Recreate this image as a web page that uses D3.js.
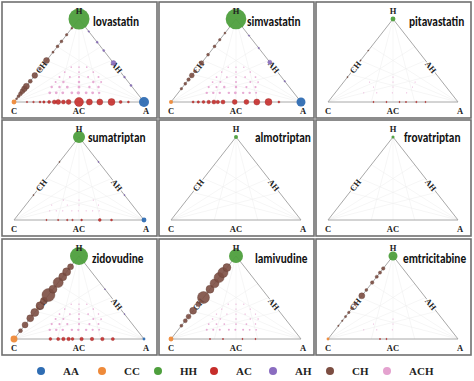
<!DOCTYPE html>
<html><head><meta charset="utf-8">
<script src="https://cdn.jsdelivr.net/npm/d3@7"></script>
<style>body{margin:0;background:#fff}</style>
</head><body><svg id="c" width="474" height="381"></svg>
<script>
// ---------------- DATA ----------------
const drugs = ["lovastatin","simvastatin","pitavastatin","sumatriptan","almotriptan","frovatriptan","zidovudine","lamivudine","emtricitabine"];
const categories = ["AA","CC","HH","AC","AH","CH","ACH"];
// vertex counts per drug
const vertexHH = [110, 106, 6, 36, 4, 2.5, 81, 49, 20];
const vertexAA = [25, 20, 0, 6, 0, 0, 2, 0, 0];
const vertexCC = [6, 4, 0, 0, 0, 0, 12, 6, 2];
// edge points: [position along edge, count]
// AC: from C (0) to A (1)
const edgeAC = [
  [[.1,.6],[.15,.7],[.2,1],[.23,1.4],[.27,2.2],[.31,4],[.34,6],[.38,4],[.42,6],[.5,20],[.58,9],[.66,9],[.75,12],[.82,2.2],[.88,1]],
  [[.17,1.2],[.21,1.5],[.25,2],[.29,3],[.33,4],[.36,3],[.4,4],[.49,6],[.58,6],[.66,9],[.75,12],[.83,1]],
  [[.35,.4],[.45,.4],[.55,.4],[.6,.4],[.68,.5],[.75,.4]],
  [[.25,.4],[.34,.5],[.41,.6],[.45,.6],[.52,.8],[.66,2],[.75,1]],
  [],
  [],
  [[.28,2],[.34,2.5],[.38,3],[.42,3],[.45,2],[.52,3],[.6,3],[.68,3],[.76,2.5]],
  [[.3,.4],[.4,.4],[.55,.4],[.65,.4]],
  [[.4,.4],[.45,.4]]
];
// CH: from C (0) to H (1)
const edgeCH = [
  [[.04,1],[.07,2.2],[.1,4],[.13,6],[.16,8],[.19,9],[.25,4],[.32,8],[.4,2],[.5,9],[.6,1.2],[.67,2],[.73,2],[.81,1.5],[.89,1]],
  [[.16,1.5],[.22,2],[.27,3],[.32,6],[.37,2],[.47,5],[.57,2],[.67,2],[.75,1.5],[.83,1]],
  [[.3,.4],[.5,.4],[.62,.3]],
  [[.3,.4],[.7,.4]],
  [],
  [],
  [[.1,4],[.17,9],[.25,12],[.32,16],[.4,16],[.46,12],[.53,42],[.6,16],[.68,25],[.75,16],[.81,16],[.87,9]],
  [[.16,2.2],[.22,4],[.27,6],[.34,12],[.42,6],[.5,36],[.6,16],[.67,20],[.74,25],[.8,25],[.86,16]],
  [[.16,.5],[.22,.6],[.27,1.2],[.32,1.5],[.37,2],[.42,2],[.52,9],[.59,2],[.68,3],[.75,2.5],[.8,2.5],[.85,3]]
];
// AH: from A (0) to H (1)
const edgeAH = [
  [[.2,1],[.3,.8],[.47,6],[.62,1],[.72,1],[.85,.6]],
  [[.25,.6],[.48,4],[.65,.6],[.8,.5]],
  [],
  [[.3,.4],[.7,.4]],
  [],
  [],
  [[.3,.3],[.6,.3]],
  [],
  []
];
// interior ACH lattice positions [a, h] (c = 1 - a - h)
const latticeA = [.22,.27,.32,.39,.44,.5,.55,.6, .2,.26,.32,.41,.49,.56, .2,.26,.38,.49,.55, .2,.28,.35,.42,.5, .21,.32,.43, .23,.29,.35];
const latticeH = [.11,.11,.11,.11,.11,.11,.11,.11, .18,.18,.18,.18,.18,.18, .24,.24,.24,.24,.24, .3,.3,.3,.3,.3, .36,.36,.36, .42,.42,.42];
const achCounts = [
  [2,2,2,2,3,2,2,1.5, 1.5,1.5,2,2,1.5,1.5, 1,1.5,1.5,1.5,1, 1,1,1,1,1, .8,.8,.8, .6,.6,.6],
  [1.5,1.5,1.5,1.5,2,1.5,1.5,1, 1.2,1.2,1.5,1.5,1.2,1.2, .8,1,1,1,.8, .8,.8,.8,.8,.8, .6,.6,.6, .5,.5,.5],
  [.3,0,.3,0,.3,0,.3,0, 0,.3,0,.3,0,.3, .3,0,.3,0,.3, 0,0,.3,0,0, 0,0,0, 0,0,0],
  [.3,.3,.3,.3,.3,.3,.3,.3, .3,0,.3,.3,0,.3, 0,.3,.3,.3,0, 0,0,0,0,0, 0,0,0, 0,0,0],
  [0,0,0,0,0,0,0,0, 0,0,0,0,0,0, 0,0,0,0,0, 0,0,0,0,0, 0,0,0, 0,0,0],
  [0,0,0,0,0,0,0,0, 0,0,0,0,0,0, 0,0,0,0,0, 0,0,0,0,0, 0,0,0, 0,0,0],
  [1.5,1.5,1.5,1.5,1.5,1.5,1.2,1, 1.2,1.2,1.2,1.2,1.2,1, 1,1,1,1,.8, .8,.8,.8,.8,.6, .6,.6,.6, .5,.5,.5],
  [1,1,1,1,1,1,.8,.8, .8,.8,.8,.8,.8,.6, .6,.6,.6,.6,.5, .5,.5,.5,.5,.4, .4,.4,.4, .3,.3,.3],
  [.3,0,.3,0,.3,0,0,0, 0,.3,0,.3,0,0, 0,0,.3,0,0, 0,0,0,0,0, 0,0,0, 0,0,0]
];

// ---------------- STYLE / LAYOUT ----------------
const colors = {AA:"#2f6db3", CC:"#ee8a3a", HH:"#4e9f3d", AC:"#c62d2b", AH:"#8a6cc0", CH:"#7c4e42", ACH:"#e4a2cf"};
const colX = [2, 159, 316], rowY = [2, 120, 239];
const panelW = 155, panelH = 116;
const labelDX = [91, 88, 93, 86, 96, 88, 90, 96, 87];
const labelDY = [24, 24, 24, 22, 22, 22, 24, 24, 24];
const tri = {cx: 12, ax: 142, baseY: 100, topY: 17};

const svg = d3.select("#c");
const rScale = d3.scaleSqrt().domain([0, 100]).range([0, 10]);
const xS = d3.scaleLinear().domain([0, 1]).range([tri.cx, tri.ax]);
const yS = d3.scaleLinear().domain([0, 1]).range([tri.baseY, tri.topY]);
// ternary (a,h) -> x,y
const px = (a, h) => xS(a + h / 2);
const py = (a, h) => yS(h);

drugs.forEach((drug, i) => {
  const g = svg.append("g").attr("transform", `translate(${colX[i % 3]},${rowY[Math.floor(i / 3)]})`);
  g.append("rect").attr("x", 0).attr("y", 0).attr("width", panelW).attr("height", panelH)
    .attr("fill", "#fff").attr("stroke", "#707070").attr("stroke-width", 1.6);

  const V = {C: [0, 0], A: [1, 0], H: [0, 1]};
  // faint internal guide lines: vertex -> opposite side at 1/3, 1/2, 2/3
  const grid = [];
  [1/3, 1/2, 2/3].forEach(t => {
    grid.push([V.H, [t, 0]]);
    grid.push([V.C, [1 - t, t]]);
    grid.push([V.A, [0, t]]);
  });
  g.selectAll("line.grid").data(grid).join("line").attr("class", "grid")
    .attr("x1", d => px(...d[0])).attr("y1", d => py(...d[0]))
    .attr("x2", d => px(...d[1])).attr("y2", d => py(...d[1]))
    .attr("stroke", "#ededed").attr("stroke-width", 0.5);

  // triangle edges
  g.append("path")
    .attr("d", d3.line()([[px(...V.C), py(...V.C)], [px(...V.A), py(...V.A)], [px(...V.H), py(...V.H)]]) + "Z")
    .attr("fill", "none").attr("stroke", "#a8a8a8").attr("stroke-width", 1);

  // interior ACH
  const ach = latticeA.map((a, k) => ({a, h: latticeH[k], n: achCounts[i][k]})).filter(d => d.n > 0);
  g.selectAll("circle.ach").data(ach).join("circle").attr("class", "ach")
    .attr("cx", d => px(d.a, d.h)).attr("cy", d => py(d.a, d.h)).attr("r", d => rScale(d.n))
    .attr("fill", colors.ACH).attr("opacity", 0.9);

  // edge labels
  const ang = Math.atan2(yS(1) - yS(0), xS(0.5) - xS(0)) * 180 / Math.PI;
  const tl = 0.42;
  [["CH", px(0, tl), py(0, tl), ang], ["AH", px(1 - tl, tl), py(1 - tl, tl), -ang]].forEach(([txt, x, y, r]) => {
    g.append("text").attr("transform", `translate(${x},${y}) rotate(${r})`)
      .attr("text-anchor", "middle").attr("dy", "0.35em")
      .attr("font-family", "Liberation Serif, serif").attr("font-weight", "bold").attr("font-size", 8.5)
      .attr("stroke", "#fff").attr("stroke-width", 2.5).attr("paint-order", "stroke")
      .attr("fill", "#222").text(txt);
  });

  // edge points
  const pts = [];
  edgeAC[i].forEach(([t, n]) => pts.push({a: t, h: 0, n, k: "AC"}));
  edgeCH[i].forEach(([t, n]) => pts.push({a: 0, h: t, n, k: "CH"}));
  edgeAH[i].forEach(([t, n]) => pts.push({a: 1 - t, h: t, n, k: "AH"}));
  g.selectAll("circle.edge").data(pts).join("circle").attr("class", "edge")
    .attr("cx", d => px(d.a, d.h)).attr("cy", d => py(d.a, d.h)).attr("r", d => rScale(d.n))
    .attr("fill", d => colors[d.k]).attr("fill-opacity", 0.9)
    .attr("stroke", d => d3.color(colors[d.k]).darker(0.6)).attr("stroke-width", 0.4);

  // vertices
  const verts = [
    {a: 0, h: 0, n: vertexCC[i], k: "CC"},
    {a: 1, h: 0, n: vertexAA[i], k: "AA"},
    {a: 0, h: 1, n: vertexHH[i], k: "HH"}
  ].filter(d => d.n > 0);
  g.selectAll("circle.vert").data(verts).join("circle").attr("class", "vert")
    .attr("cx", d => px(d.a, d.h)).attr("cy", d => py(d.a, d.h)).attr("r", d => rScale(d.n))
    .attr("fill", d => colors[d.k]).attr("fill-opacity", 0.95);

  // vertex labels
  const vl = [["C", px(0, 0), tri.baseY + 12], ["AC", px(0.5, 0), tri.baseY + 12], ["A", px(1, 0) + 2, tri.baseY + 12], ["H", px(0, 1), tri.topY - 5]];
  g.selectAll("text.vl").data(vl).join("text").attr("class", "vl")
    .attr("x", d => d[1]).attr("y", d => d[2]).attr("text-anchor", "middle")
    .attr("font-family", "Liberation Serif, serif").attr("font-weight", "bold").attr("font-size", 8.5)
    .attr("fill", "#222").text(d => d[0]);

  // drug name (condensed bold sans)
  g.append("text").attr("transform", `translate(${labelDX[i]},${labelDY[i]}) scale(0.84,1)`)
    .attr("font-family", "Carlito, Lato, sans-serif").attr("font-weight", "bold").attr("font-size", 13.5)
    .attr("fill", "#111").text(drug);
});

// legend
const legX = [41, 102, 158, 214, 273, 330, 387];
const lg = svg.append("g");
categories.forEach((c, k) => {
  lg.append("circle").attr("cx", legX[k]).attr("cy", 371).attr("r", 4).attr("fill", colors[c]);
  lg.append("text").attr("x", legX[k] + 22).attr("y", 375).attr("font-family", "Liberation Serif, serif")
    .attr("font-weight", "bold").attr("font-size", 11).attr("fill", "#222").text(c);
});
</script></body></html>
